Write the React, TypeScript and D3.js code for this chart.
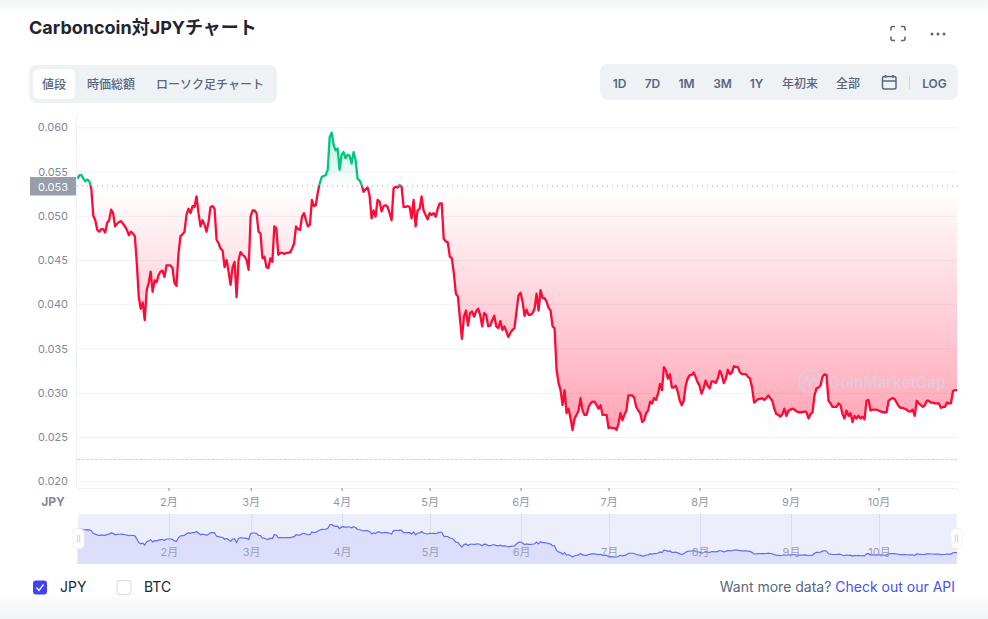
import * as d3 from "d3";
import { useEffect, useRef } from "react";
import type { JSX } from "react";

const WIDTH = 988;
const HEIGHT = 619;
const FONT = 'Inter, "Noto Sans CJK JP", sans-serif';

// prices per month, evenly spaced inside that month
const jan = [.0542,.0546,.0546,.0542,.0539,.0541,.0539,.0530,.0500,.0495,.0484,.0482,.0485,.0485,.0481,.0492,.0495,.0507,.0503,.0488,.0491,.0493,.0494,.0491,.0488,.0484,.0478,.0482,.0480,.0477,.0446,.0408,.0395,.0402,.0382,.0416,.0424,.0437,.0414,.0427,.0425,.0433,.0437,.0438,.0431,.0444];
const feb = [.0444,.0444,.0441,.0424,.0421,.0457,.0477,.0479,.0482,.0501,.0508,.0503,.0511,.0510,.0522,.0503,.0488,.0495,.0490,.0482,.0493,.0510,.0511,.0508,.0473,.0469,.0463,.0461,.0442,.0450,.0437,.0422,.0442,.0448,.0408,.0450,.0459,.0456,.0454,.0450,.0439];
const mar = [.0499,.0506,.0506,.0503,.0482,.0480,.0452,.0454,.0442,.0441,.0452,.0448,.0488,.0486,.0456,.0458,.0458,.0457,.0458,.0458,.0459,.0463,.0469,.0488,.0485,.0484,.0499,.0503,.0495,.0488,.0490,.0518,.0511,.0512,.0527,.0537,.0544,.0545,.0546,.0552,.0589,.0594,.0580,.0574,.0576,.0552];
const apr = [.0569,.0572,.0565,.0569,.0568,.0559,.0572,.0563,.0542,.0540,.0535,.0527,.0530,.0532,.0523,.0497,.0506,.0499,.0518,.0516,.0505,.0511,.0512,.0510,.0503,.0495,.0531,.0533,.0532,.0535,.0533,.0510,.0510,.0511,.0510,.0497,.0518,.0488,.0506,.0508,.0522,.0506,.0501,.0496];
const may = [.0503,.0501,.0503,.0499,.0508,.0514,.0514,.0474,.0471,.0470,.0454,.0452,.0435,.0412,.0409,.0384,.0361,.0386,.0393,.0376,.0390,.0392,.0386,.0392,.0395,.0388,.0375,.0390,.0388,.0375,.0376,.0382,.0387,.0375,.0373,.0381,.0371,.0375,.0369,.0363,.0368,.0371,.0373,.0392,.0410];
const jun = [.0413,.0403,.0387,.0394,.0388,.0388,.0390,.0395,.0412,.0393,.0416,.0407,.0407,.0403,.0396,.0393,.0375,.0373,.0326,.0311,.0303,.0286,.0303,.0277,.0282,.0271,.0258,.0271,.0275,.0280,.0294,.0280,.0275,.0275,.0284,.0288,.0290,.0290,.0286,.0282,.0286,.0275,.0275,.0275];
const jul = [.0260,.0261,.0260,.0260,.0258,.0265,.0277,.0269,.0275,.0280,.0297,.0297,.0297,.0294,.0284,.0280,.0277,.0267,.0269,.0277,.0280,.0290,.0288,.0294,.0292,.0299,.0310,.0303,.0329,.0325,.0316,.0321,.0306,.0306,.0308,.0301,.0291,.0286,.0291,.0308,.0316,.0320,.0320,.0323,.0318,.0312];
const aug = [.0308,.0299,.0305,.0314,.0308,.0305,.0313,.0313,.0311,.0316,.0325,.0320,.0311,.0316,.0326,.0321,.0323,.0330,.0329,.0329,.0323,.0321,.0321,.0321,.0318,.0316,.0306,.0289,.0291,.0293,.0293,.0294,.0292,.0294,.0297,.0294,.0291,.0282,.0276,.0275,.0273,.0276,.0282,.0274,.0280];
const sep = [.0281,.0282,.0281,.0279,.0278,.0278,.0278,.0279,.0278,.0271,.0276,.0278,.0297,.0305,.0306,.0308,.0318,.0321,.0320,.0291,.0288,.0284,.0284,.0284,.0288,.0286,.0276,.0271,.0280,.0274,.0277,.0267,.0274,.0271,.0274,.0271,.0273,.0270,.0291,.0292,.0280,.0281,.0281,.0281];
const oct = [.0280,.0279,.0278,.0278,.0278,.0291,.0293,.0294,.0293,.0289,.0285,.0283,.0283,.0282,.0281,.0279,.0279,.0281,.0274,.0291,.0288,.0286,.0284,.0286,.0291,.0291,.0289,.0289,.0288,.0288,.0288,.0283,.0284,.0284,.0289,.0288,.0288,.0302,.0303,.0303];

const months = [jan, feb, mar, apr, may, jun, jul, aug, sep, oct];
const monthTicks = [1, 2, 3, 4, 5, 6, 7, 8, 9]; // Feb..Oct as month index
const priceTicks = [0.02, 0.025, 0.03, 0.035, 0.04, 0.045, 0.05, 0.055, 0.06];
const BASE_PRICE = 0.05337;
const LOW_LINE = 0.02247;
const tabs = [
  { label: "値段", x: 54 },
  { label: "時価総額", x: 111 },
  { label: "ローソク足チャート", x: 210 },
];
const ranges = [
  { label: "1D", x: 619.5, weight: 600 },
  { label: "7D", x: 652.5, weight: 600 },
  { label: "1M", x: 686.5, weight: 600 },
  { label: "3M", x: 722.5, weight: 600 },
  { label: "1Y", x: 756.5, weight: 600 },
  { label: "年初来", x: 800, weight: 500 },
  { label: "全部", x: 848, weight: 500 },
];

const END = Date.UTC(2021, 9, 27, 18);

interface Point {
  readonly date: number;
  readonly price: number;
}

const points: Point[] = months.flatMap((values, m) => {
  const start = Date.UTC(2021, m, 1);
  const stop = m === 9 ? END : Date.UTC(2021, m + 1, 1);
  const n = m === 9 ? values.length - 1 : values.length;
  return values.map((price, i) => ({ date: start + ((stop - start) * i) / n, price }));
});

export default function App(): JSX.Element {
  const svgRef = useRef<SVGSVGElement | null>(null);

  useEffect(() => {
    const svg = d3.select(svgRef.current);
    svg.selectAll("*").remove();
    svg.attr("font-family", FONT);

    const x = d3.scaleUtc().domain([Date.UTC(2021, 0, 1), END]).range([77.5, 957]);
    const y = d3.scaleLinear().domain([0.02, 0.06]).range([481.3, 127.3]);
    const navY = d3.scaleLinear().domain([0.0258, 0.0594]).range([557, 524.5]);
    const baseY = y(BASE_PRICE);

    const defs = svg.append("defs");
    const addGradient = (id: string, y1: number, y2: number, stops: [number, string, number][]) => {
      const g = defs
        .append("linearGradient")
        .attr("id", id)
        .attr("gradientUnits", "userSpaceOnUse")
        .attr("x1", 0)
        .attr("x2", 0)
        .attr("y1", y1)
        .attr("y2", y2);
      stops.forEach(([offset, color, opacity]) => {
        g.append("stop").attr("offset", offset).attr("stop-color", color).attr("stop-opacity", opacity);
      });
    };
    addGradient("redFill", baseY, 432, [[0, "#ff0032", 0], [1, "#ff0032", 0.36]]);
    addGradient("greenFill", 133, baseY, [[0, "#00c77f", 0.28], [1, "#00c77f", 0]]);
    addGradient("topShade", 0, 16, [[0, "#f3f5f6", 1], [1, "#ffffff", 1]]);
    addGradient("bottomShade", 590, 619, [[0, "#ffffff", 1], [1, "#f2f3f4", 1]]);

    defs.append("clipPath").attr("id", "above").append("rect").attr("x", 70).attr("y", 100).attr("width", 900).attr("height", baseY - 100);
    defs.append("clipPath").attr("id", "below").append("rect").attr("x", 70).attr("y", baseY).attr("width", 900).attr("height", 400);

    svg.append("rect").attr("width", WIDTH).attr("height", HEIGHT).attr("fill", "#ffffff");
    svg.append("rect").attr("width", WIDTH).attr("height", 16).attr("fill", "url(#topShade)");
    svg.append("rect").attr("y", 590).attr("width", WIDTH).attr("height", 29).attr("fill", "url(#bottomShade)");

    // header
    svg.append("text").attr("x", 29).attr("y", 33.5).attr("font-size", 18).attr("font-weight", 700).attr("fill", "#222531").text("Carboncoin対JPYチャート");

    const fs = svg.append("g").attr("transform", "translate(898,33.5)").attr("fill", "none").attr("stroke", "#58667e").attr("stroke-width", 1.6);
    ["M-7,-3V-5.5Q-7,-7 -5.5,-7H-3", "M3,-7H5.5Q7,-7 7,-5.5V-3", "M7,3V5.5Q7,7 5.5,7H3", "M-3,7H-5.5Q-7,7 -7,5.5V3"].forEach((d) => fs.append("path").attr("d", d));
    [-6, 0, 6].forEach((dx) => svg.append("circle").attr("cx", 938 + dx).attr("cy", 34).attr("r", 1.5).attr("fill", "#58667e"));

    // tabs
    svg.append("rect").attr("x", 29).attr("y", 65).attr("width", 248).attr("height", 38).attr("rx", 8).attr("fill", "#eff2f5");
    svg.append("rect").attr("x", 33).attr("y", 69).attr("width", 42).attr("height", 30).attr("rx", 6).attr("fill", "#ffffff");
    svg.append("g").selectAll("text").data(tabs).enter().append("text")
      .attr("x", (d) => d.x).attr("y", 88.5).attr("text-anchor", "middle")
      .attr("font-size", 12).attr("font-weight", 500).attr("fill", "#58667e").text((d) => d.label);

    // range buttons
    svg.append("rect").attr("x", 600).attr("y", 64).attr("width", 358).attr("height", 36).attr("rx", 8).attr("fill", "#eff2f5");
    svg.append("g").selectAll("text").data(ranges).enter().append("text")
      .attr("x", (d) => d.x).attr("y", 87.5).attr("text-anchor", "middle")
      .attr("font-size", 12).attr("font-weight", (d) => d.weight).attr("fill", "#58667e").text((d) => d.label);
    const cal = svg.append("g").attr("fill", "none").attr("stroke", "#58667e").attr("stroke-width", 1.5);
    cal.append("rect").attr("x", 882.5).attr("y", 76.5).attr("width", 13.5).attr("height", 12.5).attr("rx", 1.5);
    cal.append("path").attr("d", "M882.5,81H896M885.5,75V78M893,75V78");
    svg.append("line").attr("x1", 909.5).attr("x2", 909.5).attr("y1", 76).attr("y2", 89).attr("stroke", "#cfd6e4");
    svg.append("text").attr("x", 934.5).attr("y", 87.5).attr("text-anchor", "middle").attr("font-size", 12).attr("font-weight", 600).attr("fill", "#58667e").text("LOG");

    // y axis with gridlines
    const yAxis = svg.append("g").attr("transform", "translate(77,0)").call(
      d3.axisLeft(y).tickValues(priceTicks).tickSize(-881).tickPadding(9).tickFormat((d) => d3.format(".3f")(d as number))
    );
    yAxis.select(".domain").remove();
    yAxis.selectAll("line").attr("stroke", "#eff2f5");
    yAxis.selectAll("text").attr("font-family", FONT).attr("font-size", 11).attr("fill", "#808a9d");

    // price area and line, split on the base price
    const area = d3.area<Point>().x((d) => x(d.date)).y0(baseY).y1((d) => y(d.price));
    const line = d3.line<Point>().x((d) => x(d.date)).y((d) => y(d.price));

    svg.append("path").attr("d", area(points)).attr("fill", "url(#redFill)").attr("clip-path", "url(#below)");
    svg.append("path").attr("d", area(points)).attr("fill", "url(#greenFill)").attr("clip-path", "url(#above)");

    // watermark
    const wm = svg.append("g").attr("opacity", 0.55);
    wm.append("circle").attr("cx", 810).attr("cy", 381.5).attr("r", 11).attr("fill", "none").attr("stroke", "#cfd8e8").attr("stroke-width", 2.4);
    wm.append("path").attr("d", "M802,387L806.5,377L810,385L814,377L818,386").attr("fill", "none").attr("stroke", "#cfd8e8").attr("stroke-width", 2.2);
    wm.append("text").attr("x", 829).attr("y", 388).attr("font-size", 15.5).attr("font-weight", 600).attr("fill", "#cfd8e8").text("CoinMarketCap");

    svg.append("path").attr("d", line(points)).attr("fill", "none").attr("stroke", "#ff0a37").attr("stroke-width", 2.3).attr("stroke-linejoin", "round").attr("clip-path", "url(#below)");
    svg.append("path").attr("d", line(points)).attr("fill", "none").attr("stroke", "#00c77f").attr("stroke-width", 2.3).attr("stroke-linejoin", "round").attr("clip-path", "url(#above)");

    // base price marker
    svg.append("line").attr("x1", 77).attr("x2", 958).attr("y1", baseY).attr("y2", baseY).attr("stroke", "#9a9fa8").attr("stroke-width", 1).attr("stroke-dasharray", "1 4");
    svg.append("rect").attr("x", 30).attr("y", 177).attr("width", 47).attr("height", 18.5).attr("fill", "#979ea9");
    svg.append("text").attr("x", 53).attr("y", 190.5).attr("text-anchor", "middle").attr("font-size", 11).attr("fill", "#ffffff").text(d3.format(".3f")(BASE_PRICE));

    // low line
    svg.append("line").attr("x1", 77).attr("x2", 958).attr("y1", y(LOW_LINE)).attr("y2", y(LOW_LINE)).attr("stroke", "#cfd0dc").attr("stroke-width", 1).attr("stroke-dasharray", "3 1.5");

    // x axis
    svg.append("line").attr("x1", 76.5).attr("x2", 76.5).attr("y1", 114).attr("y2", 488).attr("stroke", "#eff2f5");
    const monthDates = monthTicks.map((m) => new Date(Date.UTC(2021, m, 1)));
    const monthLabel = (d: Date | d3.NumberValue) => `${(d as Date).getUTCMonth() + 1}月`;
    const xAxis = svg.append("g").attr("transform", "translate(0,488)").call(
      d3.axisBottom(x).tickValues(monthDates).tickSize(3).tickPadding(7).tickFormat(monthLabel)
    );
    xAxis.select(".domain").attr("stroke", "#eff2f5");
    xAxis.selectAll("line").attr("stroke", "#808a9d");
    xAxis.selectAll("text").attr("font-family", FONT).attr("font-size", 11).attr("fill", "#8f98a9");
    svg.append("text").attr("x", 53).attr("y", 506).attr("text-anchor", "middle").attr("font-size", 12).attr("font-weight", 700).attr("fill", "#808a9d").text("JPY");

    // navigator
    svg.append("rect").attr("x", 78).attr("y", 514).attr("width", 879).attr("height", 50).attr("fill", "#eceefc");
    const navArea = d3.area<Point>().x((d) => x(d.date)).y0(564).y1((d) => navY(d.price));
    const navLine = d3.line<Point>().x((d) => x(d.date)).y((d) => navY(d.price));
    svg.append("path").attr("d", navArea(points)).attr("fill", "#dcdefb");
    svg.append("g").selectAll("line").data(monthDates).enter().append("line")
      .attr("x1", (d) => x(d) + 1).attr("x2", (d) => x(d) + 1).attr("y1", 514).attr("y2", 564)
      .attr("stroke", "#dadcf3");
    svg.append("path").attr("d", navLine(points)).attr("fill", "none").attr("stroke", "#5b6ff2").attr("stroke-width", 1.2);
    svg.append("g").selectAll("text").data(monthDates).enter().append("text")
      .attr("x", (d) => x(d) + 1).attr("y", 556).attr("text-anchor", "middle")
      .attr("font-size", 11).attr("fill", "#9a9eb8").text(monthLabel);

    [78.5, 956.5].forEach((cx) => {
      svg.append("rect").attr("x", cx - 5.5).attr("y", 528.5).attr("width", 11).attr("height", 20).attr("rx", 4).attr("fill", "#ffffff").attr("stroke", "#e6e8f2").attr("stroke-width", 0.6);
      svg.append("path").attr("d", `M${cx - 1.2},534.5V542.5M${cx + 1.2},534.5V542.5`).attr("stroke", "#c4c8d4").attr("stroke-width", 0.9);
    });

    // legend
    svg.append("rect").attr("x", 33).attr("y", 580.5).attr("width", 14).attr("height", 14).attr("rx", 3).attr("fill", "#3f42f5");
    svg.append("path").attr("d", "M36.5,587.5L39,590.5L43.5,584.5").attr("fill", "none").attr("stroke", "#ffffff").attr("stroke-width", 1.3);
    svg.append("text").attr("x", 60).attr("y", 592).attr("font-size", 14).attr("fill", "#222531").text("JPY");
    svg.append("rect").attr("x", 117).attr("y", 580.5).attr("width", 14).attr("height", 14).attr("rx", 3).attr("fill", "#ffffff").attr("stroke", "#d5d8e6");
    svg.append("text").attr("x", 144).attr("y", 592).attr("font-size", 14).attr("fill", "#222531").text("BTC");

    const more = svg.append("text").attr("x", 955).attr("y", 592).attr("text-anchor", "end").attr("font-size", 14);
    more.append("tspan").attr("fill", "#58667e").text("Want more data? ");
    more.append("tspan").attr("fill", "#4a4ff0").text("Check out our API");
  }, []);

  return (
    <svg
      ref={svgRef}
      width={WIDTH}
      height={HEIGHT}
      viewBox={`0 0 ${WIDTH} ${HEIGHT}`}
      style={{ position: "absolute", left: 0, top: 0, display: "block" }}
    />
  );
}
